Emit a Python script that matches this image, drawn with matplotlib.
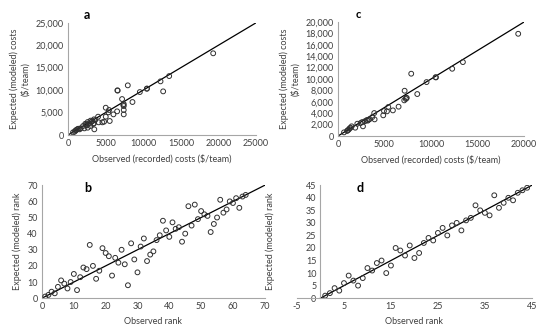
import matplotlib
matplotlib.use("Agg")
import matplotlib.pyplot as plt
from matplotlib.ticker import FuncFormatter

plt.rcParams['font.family'] = ['Lato', 'DejaVu Sans']
plt.rcParams['axes.unicode_minus'] = False

# Panel a: observed vs expected costs ($/team)
a_obs = [19300, 13450, 12300, 12650, 10480, 10500, 9550, 8570, 7950, 6570, 6600,
         7190, 7410, 7410, 7410, 7410, 7350, 6530, 6040, 5550, 5020, 5370, 5460,
         5020, 4800, 4570, 4085, 4000, 3460, 3460, 3150, 3330, 3200, 2975, 3500,
         2620, 2400, 2180, 2620, 2000, 2300, 1550, 1380, 1250, 1110, 1000, 890, 670,
         2800, 3000, 3600, 1700, 2500]
a_exp = [18200, 13130, 11950, 9720, 10310, 10350, 9570, 7350, 11060, 9940, 9900,
         8010, 6900, 6460, 5570, 4600, 6700, 5270, 4600, 3120, 6080, 5050, 5570,
         4080, 2970, 2820, 2820, 4080, 3490, 2600, 2970, 2450, 3100, 2000, 1260,
         1630, 2300, 1480, 2890, 2000, 2500, 1260, 1400, 1300, 1110, 1000, 740, 590,
         2600, 3200, 3300, 1500, 2200]
a_line = [0, 25000]

# Panel c: observed vs expected costs ($/team)
c_obs = [19390, 13440, 12290, 10540, 10500, 9530, 8530, 7880, 7170, 7350, 7400,
         7130, 7300, 6520, 5910, 5410, 5270, 4870, 4950, 3900, 3940, 3690, 3300,
         3200, 3400, 2690, 2440, 2600, 2080, 1860, 1470, 1360, 1250, 1150, 1050,
         970, 650, 3100, 2900]
c_exp = [17950, 12980, 11810, 10290, 10320, 9470, 7370, 10940, 7950, 6670, 6700,
         6260, 6500, 5150, 4500, 5090, 4330, 3630, 4390, 4030, 2920, 3330, 2870,
         2700, 2950, 1700, 2280, 2450, 2160, 1460, 1700, 1460, 1350, 1110, 1000,
         880, 640, 2800, 2600]
c_line = [0, 20000]

# Panel b: observed vs expected rank
b_obs = list(range(1, 65))
b_exp = [1, 2, 4, 3, 7, 11, 9, 6, 10, 15, 5, 13, 19, 18, 33, 20, 12, 17, 31, 28,
         26, 14, 25, 22, 30, 21, 8, 34, 24, 16, 32, 37, 23, 27, 29, 36, 39, 48, 42,
         38, 47, 43, 44, 35, 40, 57, 45, 58, 49, 54, 52, 51, 41, 46, 50, 61, 53, 55,
         60, 59, 62, 56, 63, 64]
b_line = [0, 70]

# Panel d: observed vs expected rank
d_obs = list(range(1, 45))
d_exp = [1, 2, 4, 3, 6, 9, 7, 5, 8, 12, 11, 14, 15, 10, 13, 20, 19, 17, 21, 16,
         18, 22, 24, 23, 26, 28, 25, 29, 30, 27, 31, 32, 37, 35, 34, 33, 41, 36, 38,
         40, 39, 42, 43, 44]
d_line = [0, 45]

fig = plt.figure(figsize=(5.5, 3.35), dpi=100)

spine_col = '#A6A6A6'
text_col = '#404040'
fs = 6.5


def style(ax):
    for s in ['top', 'right']:
        ax.spines[s].set_visible(False)
    for s in ['left', 'bottom']:
        ax.spines[s].set_color(spine_col)
        ax.spines[s].set_linewidth(0.8)
    ax.tick_params(length=0, labelsize=fs, colors=text_col, pad=3)


def scatter(ax, x, y, lx):
    ax.plot(lx, lx, color='black', lw=0.9, zorder=2)
    ax.scatter(x, y, s=12, facecolors='none', edgecolors='#303030',
               linewidths=0.7, zorder=3)


comma = FuncFormatter(lambda v, p: f"{int(v):,}")

# a
ax = fig.add_axes([0.1236, 0.597, 0.342, 0.335])
style(ax)
scatter(ax, a_obs, a_exp, a_line)
ax.set_xlim(0, 25000)
ax.set_ylim(0, 25000)
ax.set_xticks(range(0, 25001, 5000))
ax.set_yticks(range(0, 25001, 5000))
ax.yaxis.set_major_formatter(comma)
ax.set_xlabel('Observed (recorded) costs ($/team)', fontsize=fs, color=text_col, labelpad=4)
ax.set_ylabel('Expected (modeled) costs\n($/team)', fontsize=fs, color=text_col, labelpad=4)
fig.text(87 / 550, 1 - 15 / 335, 'a', fontsize=9, fontweight='bold', ha='center', va='center')

# c
ax = fig.add_axes([0.6145, 0.594, 0.338, 0.340])
style(ax)
scatter(ax, c_obs, c_exp, c_line)
ax.set_xlim(0, 20000)
ax.set_ylim(0, 20000)
ax.set_xticks(range(0, 20001, 5000))
ax.set_yticks(range(0, 20001, 2000))
ax.yaxis.set_major_formatter(comma)
ax.set_xlabel('Observed (recorded) costs ($/team)', fontsize=fs, color=text_col, labelpad=4)
ax.set_ylabel('Expected (modeled) costs\n($/team)', fontsize=fs, color=text_col, labelpad=4)
fig.text(358 / 550, 1 - 15 / 335, 'c', fontsize=8, fontweight='bold', ha='center', va='center')

# b
ax = fig.add_axes([0.0764, 0.110, 0.405, 0.337])
style(ax)
scatter(ax, b_obs, b_exp, b_line)
ax.set_xlim(0, 70)
ax.set_ylim(0, 70)
ax.set_xticks(range(0, 71, 10))
ax.set_yticks(range(0, 71, 10))
ax.set_xlabel('Observed rank', fontsize=fs, color=text_col, labelpad=4)
ax.set_ylabel('Expected (modeled) rank', fontsize=fs, color=text_col, labelpad=4)
fig.text(88 / 550, 1 - 188 / 335, 'b', fontsize=9, fontweight='bold', ha='center', va='center')

# d
ax = fig.add_axes([0.54, 0.110, 0.427, 0.337])
style(ax)
scatter(ax, d_obs, d_exp, d_line)
ax.set_xlim(-5, 45)
ax.set_ylim(0, 45)
ax.spines['left'].set_position(('data', 0))
ax.set_xticks(range(-5, 46, 10))
ax.set_yticks(range(0, 46, 5))
ax.set_xlabel('Observed rank', fontsize=fs, color=text_col, labelpad=4)
ax.set_ylabel('Expected (modeled) rank', fontsize=fs, color=text_col, labelpad=4)
ax.yaxis.set_label_coords(-0.095, 0.5)
fig.text(360 / 550, 1 - 188 / 335, 'd', fontsize=9, fontweight='bold', ha='center', va='center')

fig.savefig('out.png', dpi=100)
